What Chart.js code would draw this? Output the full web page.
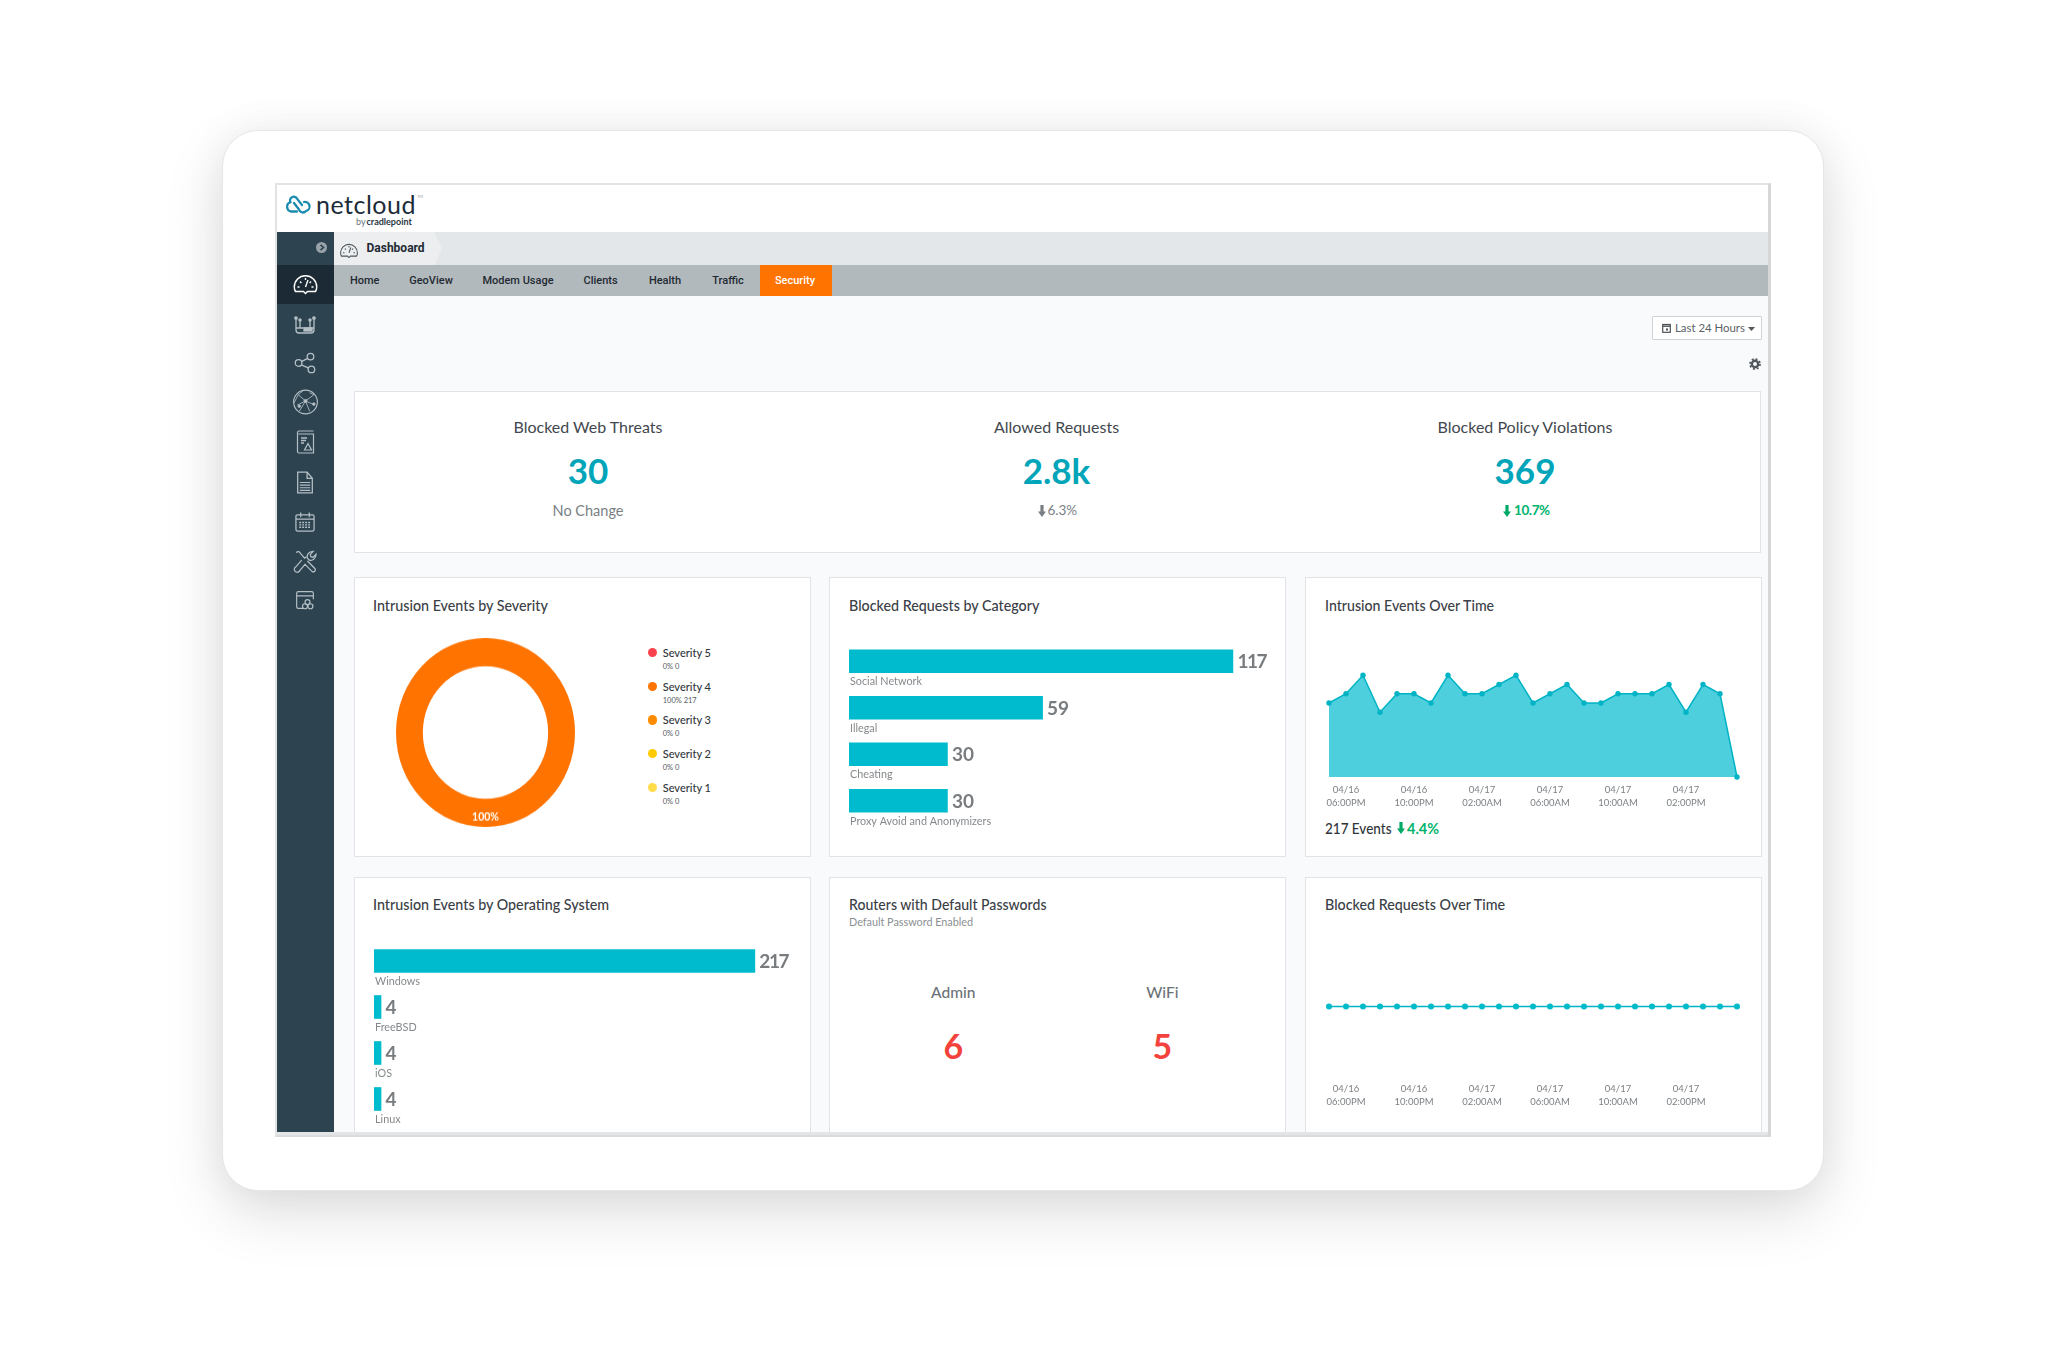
<!DOCTYPE html>
<html lang="en"><head><meta charset="utf-8"><title>netcloud Security Dashboard</title>
<script src="https://cdn.jsdelivr.net/npm/chart.js@4/dist/chart.umd.min.js"></script>
<style>
html,body{margin:0;padding:0;background:#fff;width:2048px;height:1365px;overflow:hidden;font-family:Lato,"Open Sans",sans-serif}
#page{position:relative;width:2048px;height:1365px;overflow:hidden}
.b{position:absolute;box-sizing:border-box}
.t{position:absolute;white-space:nowrap;line-height:1}
svg{position:absolute;overflow:visible}
canvas{display:block}
</style></head><body><div id="page"></div>
<script>
// ---------- data ----------
const navItems = ["Home","GeoView","Modem Usage","Clients","Health","Traffic","Security"];
const kpiTitles = ["Blocked Web Threats","Allowed Requests","Blocked Policy Violations"];
const kpiValues = ["30","2.8k","369"];
const kpiChanges = ["No Change","6.3%","10.7%"];
const severityLabels = ["Severity 5","Severity 4","Severity 3","Severity 2","Severity 1"];
const severityValues = [0,217,0,0,0];
const severityColors = ["#f8434f","#ff7300","#ff8c00","#ffcb00","#ffdc4a"];
const categoryLabels = ["Social Network","Illegal","Cheating","Proxy Avoid and Anonymizers"];
const categoryValues = [117,59,30,30];
const osLabels = ["Windows","FreeBSD","iOS","Linux"];
const osValues = [217,4,4,4];
const passwordLabels = ["Admin","WiFi"];
const passwordValues = [6,5];
const timeLabels = ["04/16 05:00PM","04/16 06:00PM","04/16 07:00PM","04/16 08:00PM","04/16 09:00PM","04/16 10:00PM","04/16 11:00PM","04/17 12:00AM","04/17 01:00AM","04/17 02:00AM","04/17 03:00AM","04/17 04:00AM","04/17 05:00AM","04/17 06:00AM","04/17 07:00AM","04/17 08:00AM","04/17 09:00AM","04/17 10:00AM","04/17 11:00AM","04/17 12:00PM","04/17 01:00PM","04/17 02:00PM","04/17 03:00PM","04/17 04:00PM","04/17 05:00PM"];
const intrusionSeries = [8,9,11,7,9,9,8,11,9,9,10,11,8,9,10,8,8,9,9,9,10,7,10,9,0];
const blockedSeries = [0,0,0,0,0,0,0,0,0,0,0,0,0,0,0,0,0,0,0,0,0,0,0,0,0];

// ---------- page helpers ----------
const page = document.getElementById('page');
function box(l,t,w,h,css){const d=document.createElement('div');d.className='b';d.style.cssText=`left:${l}px;top:${t}px;width:${w}px;height:${h}px;${css||''}`;page.appendChild(d);return d;}
function text(x,y,s,o){o=o||{};const d=document.createElement('div');d.className='t';d.textContent=s;
  const tx=o.align==='center'?'-50%':(o.align==='right'?'-100%':'0');
  d.style.cssText=`left:${x}px;top:${y}px;transform:translate(${tx},-50%) ${o.sx?`scaleX(${o.sx})`:''};transform-origin:${o.align==='center'?'center':'left'} center;font-size:${o.size||14}px;font-weight:${o.weight||400};color:${o.color||'#3c4248'};font-family:${o.font||'Lato'};${o.ls?`letter-spacing:${o.ls}px;`:''}`;
  page.appendChild(d);return d;}
function svg(cx,cy,w,h,vb,inner,color){const ns='http://www.w3.org/2000/svg';const s=document.createElementNS(ns,'svg');
  s.setAttribute('viewBox',vb);s.setAttribute('width',w);s.setAttribute('height',h);s.style.left=(cx-w/2)+'px';s.style.top=(cy-h/2)+'px';s.style.color=color;
  s.setAttribute('fill','none');s.setAttribute('stroke','currentColor');s.innerHTML=inner;page.appendChild(s);return s;}
function arrow(cx,cy,color){svg(cx,cy,8,12,'0 0 8 12',`<path d="M2.4 0h3.2v6.6H8L4 12 0 6.6h2.4z" fill="currentColor" stroke="none"/>`,color);}
function card(l,t,r,b){return box(l,t,r-l,b-t,'background:#fff;border:1.5px solid #e1e3e6');}

// ---------- shell ----------
box(222,130,1602,1061,'background:#fff;border:1px solid #e6e6e6;border-radius:36px;box-shadow:0 22px 60px rgba(0,0,0,.13),0 0 44px rgba(0,0,0,.05)');
box(274.5,182.5,1496.5,954.5,'background:#fff;border:2px solid #e2e3e4;border-right:3px solid #d4d6d8;border-bottom:2px solid #d9dbdc');
box(277,232,1491,900,'background:#f9fafb');
box(277,1132,1491,3,'background:#e4e5e6');

// logo
svg(297.5,203.5,24,19,'0 0 24 19',`<g stroke-width="2.3" stroke-linecap="round" stroke-linejoin="round"><path d="M16 11 11 4.600A3.600 3.600 0 0 0 4.500 8.200M4.500 8.200A4.800 4.800 0 0 0 5 17.500H11"/><path d="M8 9l5 6.500A4 4 0 0 0 20 17 4.600 4.600 0 0 0 18 8"/></g>`,'#1b8cb0');
text(316,204,'netcloud',{size:25,weight:400,color:'#1d2c39',ls:.5});
text(417,197,'TM',{size:4,color:'#9aa0a5'});
text(356,221,'by',{size:9,color:'#67727a'});
text(366.5,221,'cradlepoint',{size:9,weight:700,color:'#2a3742'});

// breadcrumb + nav
box(334,232,1434,33,'background:#e4e7e9');
box(334,232,108,33,'background:#eceeef;clip-path:polygon(0 0,93% 0,100% 50%,93% 100%,0 100%)');
text(366.5,248,'Dashboard',{size:12,weight:700,color:'#1f2a33',font:'Roboto',sx:1});
box(334,265,1434,31,'background:#b2b9bc');
const navX=[364.7,431,518,600.6,665,728,795];
box(760,265,71.5,31,'background:#ff7300');
navItems.forEach((n,i)=>text(navX[i],279.5,n,{size:11,weight:500,font:'Roboto',align:'center',color:i===6?'#fff':'#1f2a33'}));
const gauge=`<path d="M2 17.5C1 16 .8 14.5.8 13a11.2 11.2 0 0 1 22.4 0c0 1.5-.2 3-1.2 4.5H14l-2 2-2-2z" stroke-width="1.4"/><path d="M12 13 14.5 6M4 13h2M18 13h2M6.5 7.5l1.4 1.4M17.5 7.5l-1.4 1.4M12 4v2" stroke-width="1.4"/>`;
svg(348.5,250,20,15,'0 0 24 20',gauge,'#4c565e');

// sidebar
box(277,232,57,900,'background:#2d4350');
box(277,265,57,39,'background:#1b2a35');
box(316,241.5,11,11,'border-radius:50%;background:#98a2a8');
svg(321.6,247,6,7,'0 0 6 7','<path d="M1.5 .8 4.5 3.5 1.5 6.2" stroke-width="1.6"/>','#2d4350');
const sc='#b5c0c6';
svg(305,284,25,20,'0 0 24 20',gauge,'#fff');
svg(305,325,24,20,'0 0 24 20',`<g stroke-width="1.3"><path d="M3 2v13a3 3 0 0 0 3 3h12a3 3 0 0 0 3-3V2M3 13h18M7 5v8M17 5v8"/><rect x="11" y="13" width="8" height="3" fill="currentColor"/><circle cx="3" cy="3" r="1.2" fill="currentColor"/><circle cx="21" cy="3" r="1.2" fill="currentColor"/><circle cx="7" cy="5" r="1.1" fill="currentColor"/><circle cx="17" cy="5" r="1.1" fill="currentColor"/></g>`,sc);
svg(305,363,22,22,'0 0 24 24',`<g stroke-width="1.4"><circle cx="18" cy="5" r="3.6"/><circle cx="5" cy="12" r="3.6"/><circle cx="19" cy="19" r="3.6"/><path d="M15 7 8 10.5M8 14l8 3.5"/></g>`,sc);
svg(305,402,25,26,'0 0 24 24',`<g stroke-width=".8"><circle cx="12" cy="12" r="11.4" stroke-width="1.1"/><path d="M5 5 12 11 20 5M4 15l8-4 4 10M12 11 6 21M12 11l9 4M10 1 5 5 1 13M16 3l4 2"/><circle cx="12" cy="11" r="1.5" fill="currentColor"/><circle cx="20" cy="14" r="1.2" fill="currentColor"/><circle cx="6" cy="16" r="1.2" fill="currentColor"/></g>`,sc);
svg(305,442,19,24,'0 0 18 24',`<g stroke-width="1.2"><path d="M1 2.5A1.5 1.5 0 0 1 2.5 1H17M2 4h15v19H2.5A1.5 1.5 0 0 1 1 21.500V2.500"/><path d="M4.500 8h6M4.500 10.500h5M4.500 13h3" stroke-width="1.5"/><path d="M11.500 13.500 15 20H8z"/></g>`,sc);
svg(305,482,18,23,'0 0 16 22',`<g stroke-width="1.2"><path d="M1 1h9l5 6v14H1zM10 1v6h5"/><path d="M3 11h10M3 13.500h10M3 16h10M3 18.500h10" stroke-width="1.1"/></g>`,sc);
svg(305,521,22,21,'0 0 22 22',`<g stroke-width="1.3"><rect x="1.500" y="4" width="19" height="17" rx="1.500"/><path d="M1.500 8.500h19M6.500 1.500v5M15.500 1.500v5"/><path d="M5 12h12M5 14.500h12M5 17h12" stroke-dasharray="2 1.100" stroke-width="1.500"/></g>`,sc);
svg(305,562,23,24,'0 0 24 24',`<g stroke-width="1.3"><path d="M2 2 5 1l6 7 2-1.500M8 10l-6 7a3 3 0 1 0 4 4l6-7M14 11l8 8c1 2-1 4-3 3l-8-8"/><path d="M14 8c-1-3 1-7 6-7l-3 3 .5 2.500 2.500.5 3-3c0 5-4 7-7 6z"/></g>`,sc);
svg(305,600,20,20,'0 0 24 24',`<g stroke-width="1.400"><path d="M10 22H4a2 2 0 0 1-2-2V4a2 2 0 0 1 2-2h16a2 2 0 0 1 2 2v7M2 7h20"/><circle cx="15" cy="14.500" r="3"/><circle cx="12" cy="19.500" r="3"/><circle cx="18.500" cy="19.500" r="3"/></g>`,sc);

// filter row
box(1652,316,109.5,24,'background:#fff;border:1.5px solid #cfd3d6;border-radius:1px');
svg(1666,328,9,10,'0 0 9 10',`<rect x=".7" y="1.500" width="7.600" height="7.800" stroke-width="1.200"/><path d="M.7 3.200h7.600" stroke-width="1.400"/><rect x="4" y="5.500" width="2" height="2" fill="currentColor" stroke="none"/>`,'#4a5258');
text(1675,328,'Last 24 Hours',{size:11.5,color:'#5c6368',sx:.99});
svg(1751,329,7,4,'0 0 7 4',`<path d="M0 0h7L3.500 4z" fill="currentColor" stroke="none"/>`,'#555');
svg(1755,364,12,12,'0 0 12 12',`<circle cx="6" cy="6" r="3.200" stroke-width="2.400"/><circle cx="6" cy="6" r="5" stroke-width="1.800" stroke-dasharray="1.900 2.030"/>`,'#50585e');

// ---------- cards ----------
card(353.500,391,1761,552.500);
const kpiX=[588,1056.5,1525];
kpiTitles.forEach((k,i)=>{
  text(kpiX[i],427,k,{size:16,align:'center',color:'#42484e'});
  text(kpiX[i],470,kpiValues[i],{size:35,weight:700,align:'center',color:'#00a5b9'});
});
text(588,511,kpiChanges[0],{size:14.500,align:'center',color:'#7a7f84'});
arrow(1041.500,511,'#7a7f84');text(1047.500,511,kpiChanges[1],{size:13.500,color:'#7a7f84'});
arrow(1507,511,'#00aa66');text(1514,511,kpiChanges[2],{size:13.500,weight:700,color:'#00b36e',ls:-.4});

card(353.500,577,810.500,857);card(829,577,1285.500,857);card(1305,577,1761.500,857);
card(353.500,877,810.500,1134);card(829,877,1285.500,1134);card(1305,877,1761.500,1134);
box(277,1132,1491,3,'background:#e4e5e6');
const titleOpt={size:14.500,color:'#3a4046',weight:500,sx:.985};
text(373,606,'Intrusion Events by Severity',titleOpt);
text(848.5,606,'Blocked Requests by Category',titleOpt);
text(1325,606,'Intrusion Events Over Time',{...titleOpt,sx:.975});
text(373,905,'Intrusion Events by Operating System',titleOpt);
text(848.5,905,'Routers with Default Passwords',{...titleOpt,sx:.97});
text(1325,905,'Blocked Requests Over Time',titleOpt);
text(849,922,'Default Password Enabled',{size:10.800,color:'#8a8f93'});
const pwX=[953.300,1162.300];
passwordLabels.forEach((l,i)=>{
  text(pwX[i],993,l,{size:15.500,align:'center',color:'#6c7277',weight:500});
  text(pwX[i],1045.5,String(passwordValues[i]),{size:34,weight:700,align:'center',color:'#f4433c'});
});

// severity legend
const legY=[652.300,686.300,720,753.700,787.700];
const total=severityValues.reduce((a,b)=>a+b,0);
severityLabels.forEach((l,i)=>{
  box(648,legY[i]-4.700,9.400,9.400,`border-radius:50%;background:${severityColors[i]}`);
  text(662.700,legY[i]-.7,l,{size:11,weight:500,color:'#30363b'});
  text(662.700,legY[i]+14.300,`${Math.round(severityValues[i]/total*100)}% ${severityValues[i]}`,{size:7.500,color:'#555b60'});
});

text(1325,828.500,'217 Events',{size:14.500,weight:500,color:'#2f353a',sx:.93});
arrow(1401,828,'#00aa66');
text(1407,828.500,'4.4%',{size:14.500,weight:700,color:'#00b36e'});

// ---------- charts ----------
Chart.defaults.animation=false;
Chart.defaults.font.family='Lato';
Chart.defaults.plugins.legend.display=false;
Chart.defaults.plugins.tooltip.enabled=false;
function mount(l,t,w,h,css){const d=box(l,t,w,h,css);const c=document.createElement('canvas');d.appendChild(c);return c;}

// doughnut
new Chart(mount(396,642.5,179,179,'transform:scaleY(1.056);transform-origin:center'),{
  type:'doughnut',
  data:{labels:severityLabels,datasets:[{data:severityValues,backgroundColor:severityColors,borderWidth:0}]},
  options:{responsive:true,maintainAspectRatio:false,cutout:'70%',rotation:0,layout:{padding:0}},
  plugins:[{id:'pct',afterDatasetsDraw(ch){const ds=ch.data.datasets[0].data,tot=ds.reduce((a,b)=>a+b,0),c=ch.ctx;
    ch.getDatasetMeta(0).data.forEach((a,i)=>{if(!ds[i])return;const p=a.getCenterPoint();c.save();c.font='700 10.5px Lato';c.fillStyle='#fff';c.textAlign='center';c.textBaseline='middle';
      c.fillText(Math.round(ds[i]/tot*100)+'%',p.x,p.y+4.500);c.restore();});}}]
});

const valueLabels={id:'vals',afterDatasetsDraw(ch){const c=ch.ctx,ds=ch.data.datasets[0].data;
  ch.getDatasetMeta(0).data.forEach((b,i)=>{const s=String(ds[i]);c.save();c.font='700 19px Lato';c.letterSpacing=s.includes('1')?'-1.5px':'0px';c.fillStyle='#787c7f';c.textBaseline='middle';c.fillText(s,b.x+4.5,b.y+1);c.restore();});}};
function hbar(canvas,labels,values,max){
  return new Chart(canvas,{type:'bar',
    data:{labels,datasets:[{data:values,backgroundColor:'#00bbce',barThickness:23,borderWidth:0}]},
    options:{indexAxis:'y',responsive:true,maintainAspectRatio:false,layout:{padding:{bottom:8}},
      scales:{x:{display:false,min:0,max},
        y:{grid:{display:false,drawTicks:false},border:{display:false},afterFit(s){s.paddingTop=0;s.paddingBottom=0;s.width=0;},
           ticks:{mirror:true,padding:1,labelOffset:20.500,autoSkip:false,color:'#85898c',font:{size:10.800}}}}},
    plugins:[valueLabels]});
}
hbar(mount(849,638,420,194),categoryLabels,categoryValues,128);
hbar(mount(374,938,430,192),osLabels,osValues,245);

function timeOpts(ymin,ymax,pad){return {responsive:true,maintainAspectRatio:false,layout:{padding:{left:6,right:6,top:5,bottom:0}},
  scales:{y:{display:false,min:ymin,max:ymax},
    x:{offset:false,grid:{display:false,drawTicks:false},border:{display:false},
       afterFit(s){s.height=40;s.paddingLeft=0;s.paddingRight=0;},
       ticks:{autoSkip:false,maxRotation:0,minRotation:0,padding:pad,color:'#7d8185',font:{size:9.500,lineHeight:1.340},
         callback(v,i){return i%4===1?this.getLabelForValue(v).split(' '):null;}}}}};}
new Chart(mount(1323,587,420,230),{type:'line',
  data:{labels:timeLabels,datasets:[{data:intrusionSeries,fill:'origin',backgroundColor:'#4dcfde',borderColor:'#00b4c5',borderWidth:1.500,tension:0,clip:false,pointRadius:2.700,pointBackgroundColor:'#00b4c5',pointBorderWidth:0}]},
  options:timeOpts(0,20,7)});
new Chart(mount(1323,933,420,182),{type:'line',
  data:{labels:timeLabels,datasets:[{data:blockedSeries,fill:false,borderColor:'#00b4c5',borderWidth:1.500,tension:0,clip:false,pointRadius:3,pointBackgroundColor:'#00bbc9',pointBorderWidth:0}]},
  options:timeOpts(-1,1,8)});
</script></body></html>
